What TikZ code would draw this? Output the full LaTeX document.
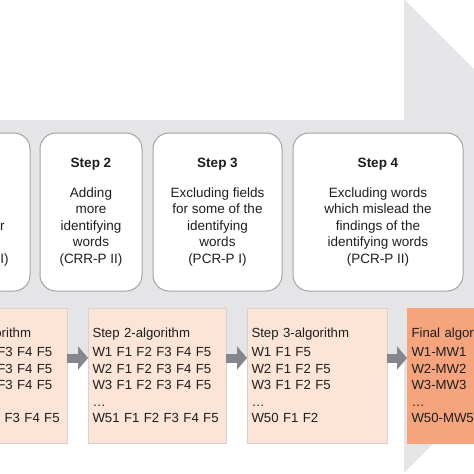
\documentclass[tikz,border=0pt]{standalone}
\usepackage{fontspec}
\setmainfont{Liberation Sans}
\usetikzlibrary{arrows.meta,positioning}
\definecolor{bandgray}{HTML}{E5E5E7}
\definecolor{stepedge}{HTML}{A3A3A3}
\definecolor{peach}{HTML}{FCE4D6}
\definecolor{peachedge}{HTML}{D8D0CC}
\definecolor{finalorange}{HTML}{F5A47E}
\definecolor{arrowgray}{HTML}{84878D}
\definecolor{textdark}{HTML}{1E1E1E}
\tikzset{
  band/.style={fill=bandgray,draw=none},
  stepbox/.style={draw=stepedge,line width=1pt,fill=white,rounded corners=16pt,align=center,minimum height=158pt,inner sep=0pt,outer sep=0pt,text=textdark,font=\fontsize{13.5}{16.5}\selectfont},
  algobox/.style={draw=peachedge,line width=0.8pt,fill=peach,align=left,text width=129pt,inner xsep=4.5pt,inner ysep=0pt,minimum height=135pt,outer sep=0pt,text=textdark,font=\fontsize{13.2}{16.5}\selectfont},
  finalbox/.style={algobox,fill=finalorange,draw=finalorange},
  flowarrow/.style={arrowgray,line width=9pt,-{Triangle[length=10pt,width=23pt]}}
}

\begin{document}
\begin{tikzpicture}[x=1pt,y=-1pt]
\useasboundingbox (0,0) rectangle (474,474);
\clip (0,0) rectangle (474,474);
\fill[band] (-10,120) -- (404,120) -- (404,-1) -- (641,236) -- (404,473) -- (404,358) -- (-10,358) -- cycle;
\node[stepbox,minimum width=102pt] (s1) at (-21,212) {\textbf{Step 1}\\[13.5pt]Initial\\set of\\identifier\\words\\(CRR-P I)};
\node[stepbox,minimum width=102pt,right=10pt of s1] (s2) {\textbf{Step 2}\\[13.5pt]Adding\\more\\identifying\\words\\(CRR-P II)};
\node[stepbox,minimum width=129pt,right=11pt of s2] (s3) {\textbf{Step 3}\\[13.5pt]Excluding fields\\for some of the\\identifying\\words\\(PCR-P I)};
\node[stepbox,minimum width=170pt,right=11pt of s3] (s4) {\textbf{Step 4}\\[13.5pt]Excluding words\\which mislead the\\findings of the\\identifying words\\(PCR-P II)};
\node[algobox] (a1) at (-2,375.5) {Step 1-algorithm\\[2.5pt]W1 F1 F2 F3 F4 F5\\W2 F1 F2 F3 F4 F5\\W3 F1 F2 F3 F4 F5\\…\\W48 F1 F2 F3 F4 F5};
\node[algobox,right=21pt of a1] (a2) {Step 2-algorithm\\[2.5pt]W1 F1 F2 F3 F4 F5\\W2 F1 F2 F3 F4 F5\\W3 F1 F2 F3 F4 F5\\…\\W51 F1 F2 F3 F4 F5};
\node[algobox,text width=131pt,right=21pt of a2] (a3) {Step 3-algorithm\\[2.5pt]W1 F1 F5\\W2 F1 F2 F5\\W3 F1 F2 F5\\…\\W50 F1 F2};
\node[finalbox,right=20pt of a3] (a4) {Final algorithm\\[2.5pt]W1-MW1\\W2-MW2\\W3-MW3\\…\\W50-MW50};
\foreach \i/\j in {a1/a2,a2/a3,a3/a4}
  \draw[flowarrow] ([yshift=17.5pt]\i.east) -- ([yshift=17.5pt]\j.west);
\end{tikzpicture}
\end{document}
